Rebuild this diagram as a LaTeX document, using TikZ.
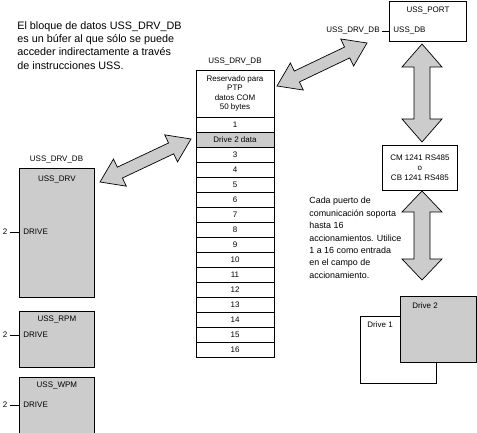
\documentclass[tikz,border=0pt]{standalone}
\usepackage{fontspec}
\setmainfont{Liberation Sans}
\usetikzlibrary{calc,positioning}
\definecolor{boxgray}{RGB}{204,204,204}

% block arrow with a head at both ends: #1,#2 ends, #3 half shaft, #4 half head, #5 head length
\newcommand\bigarrow[5]{%
  \coordinate (ha) at ($#1!#5!#2$);
  \coordinate (hb) at ($#2!#5!#1$);
  \draw[blockarrow] #1 -- ($(ha)!#4!-90:#1$) -- ($(ha)!#3!-90:#1$) -- ($(hb)!#3!90:#2$)
    -- ($(hb)!#4!90:#2$) -- #2 -- ($(hb)!#4!-90:#2$) -- ($(hb)!#3!-90:#2$)
    -- ($(ha)!#3!90:#1$) -- ($(ha)!#4!90:#1$) -- cycle;}

\begin{document}
\begin{tikzpicture}[x=1pt, y=-1pt, line width=0.8pt,
      every node/.append style={inner sep=0pt, font=\fontsize{8}{9.5}\selectfont},
      blockarrow/.style={draw=black, fill=boxgray, line width=0.7pt, line join=miter},
      fb/.style={draw=black, fill=boxgray, minimum width=75pt, anchor=north west},
      cell/.style={draw=black, minimum width=78pt, minimum height=15pt}]
    \tikzstyle{note} = [anchor=north west, align=left]
    \useasboundingbox (0,0) rectangle (477,433);

    % explanation texts
    \node (info) [note, font=\fontsize{10.8}{13.3}\selectfont] at (17,21)
      {El bloque de datos USS\_DRV\_DB\\es un búfer al que sólo se puede\\acceder indirectamente a través\\de instrucciones USS.};
    \node (ports) [note, font=\fontsize{8.9}{12.4}\selectfont] at (309,197)
      {Cada puerto de\\comunicación soporta\\hasta 16\\accionamientos. Utilice\\1 a 16 como entrada\\en el campo de\\accionamiento.};

    % data block
    \node (dbname) at (235,62) {USS\_DRV\_DB};
    \node (head) [cell, minimum height=47pt, align=center] at (235,93.5) {Reservado para\\PTP\\datos COM\\50 bytes};
    \foreach \i in {1,...,16}{
      \ifnum\i=2
        \node (row\i) [cell, fill=boxgray] at (235,{109.5+15*\i}) {Drive 2 data};
      \else
        \node (row\i) [cell] at (235,{109.5+15*\i}) {\i};
      \fi
    }

    % instructions
    \node (drvname) at (56.5,160) {USS\_DRV\_DB};
    \node (drv) [fb, minimum height=129pt] at (19,168) {};
    \node (drvtitle) [below=8pt of drv.north] {USS\_DRV};
    \node (rpm) [fb, minimum height=56pt] at (19,311) {};
    \node (rpmtitle) [below=5pt of rpm.north] {USS\_RPM};
    \node (wpm) [fb, minimum height=56pt] at (19,377) {};
    \node (wpmtitle) [below=5pt of wpm.north] {USS\_WPM};
    \foreach \blk/\y in {drv/232, rpm/335, wpm/405}{
      \node (\blk in) [anchor=west] at (23,\y) {DRIVE};
      \node (\blk num) at (5,\y) {2};
      \draw[line width=0.6pt] (\blk num.east) ++(2,0) -- (\blk num.east -| \blk.west);
    }

    % port and module
    \node (port) [draw=black, minimum width=77pt, minimum height=40pt, anchor=north west] at (389,1) {};
    \node (porttitle) at (428,11) {USS\_PORT};
    \node (portin) [anchor=west] at (393,31) {USS\_DB};
    \node (portarg) [anchor=east] at (380,31) {USS\_DRV\_DB};
    \draw[line width=0.6pt] (portarg.east) ++(2,0) -- (portarg.east -| port.west);
    \node (cm) [draw=black, minimum width=75pt, minimum height=45pt, align=center,
      anchor=north west, font=\fontsize{8}{10}\selectfont] at (382,145) {CM 1241 RS485\\o\\CB 1241 RS485};

    % drives
    \node (drive1) [draw=black, fill=white, minimum width=76pt, minimum height=67pt, anchor=north west] at (360,316) {};
    \node (drive1t) [anchor=west] at (367,325) {Drive 1};
    \node (drive2) [fb, minimum width=76pt, minimum height=66pt] at (400,296) {};
    \node (drive2t) [anchor=west] at (412,306) {Drive 2};

    % block arrows
    \coordinate (a1) at (100,182); \coordinate (b1) at (191,139);
    \coordinate (a2) at (277,86);  \coordinate (b2) at (367,43);
    \coordinate (a3) at (422,44);  \coordinate (b3) at (422,142);
    \coordinate (a4) at (422,191); \coordinate (b4) at (422,280);
    \bigarrow{(a1)}{(b1)}{6pt}{15pt}{22pt}
    \bigarrow{(a2)}{(b2)}{6pt}{15pt}{22pt}
    \bigarrow{(a3)}{(b3)}{8pt}{20pt}{23pt}
    \bigarrow{(a4)}{(b4)}{8pt}{20pt}{21pt}
  \end{tikzpicture}
\end{document}
